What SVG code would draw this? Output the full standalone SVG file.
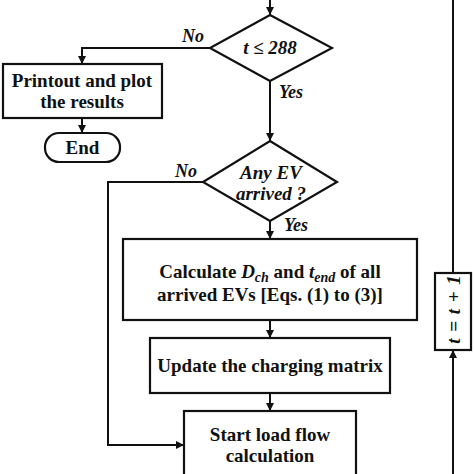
<svg xmlns="http://www.w3.org/2000/svg" width="474" height="474" viewBox="0 0 474 474">
<defs>
<style>
.s{fill:#fff;stroke:#111;stroke-width:2.2}
.c{fill:none;stroke:#111;stroke-width:2}
.t{font-family:"Liberation Serif","Times New Roman",serif;font-weight:bold;font-size:19px;fill:#111;text-anchor:middle}
.i{font-style:italic}
.l{font-family:"Liberation Serif","Times New Roman",serif;font-weight:bold;font-style:italic;font-size:18px;fill:#111}
</style>
<marker id="a" viewBox="0 0 10 10" refX="10" refY="5" markerWidth="8" markerHeight="8" orient="auto" markerUnits="userSpaceOnUse">
<path d="M0,0 L10,5 L0,10 z" fill="#111"/>
</marker>
</defs>
<rect width="474" height="474" fill="#fff"/>
<g id="connectors">
<path class="c" d="M270,0 V15" marker-end="url(#a)"/>
<path class="c" d="M210,48 H82 V64" marker-end="url(#a)"/>
<path class="c" d="M82,118 V133" marker-end="url(#a)"/>
<path class="c" d="M270,81 V141" marker-end="url(#a)"/>
<path class="c" d="M203,182 H108 V445 H184" marker-end="url(#a)"/>
<path class="c" d="M270,221 V239" marker-end="url(#a)"/>
<path class="c" d="M270,320 V338" marker-end="url(#a)"/>
<path class="c" d="M270,393 V411" marker-end="url(#a)"/>
<path class="c" d="M453,474 V350" marker-end="url(#a)"/>
<path class="c" d="M453,273 V0"/>
<text class="l" x="182" y="42">No</text>
<text class="l" x="279" y="98">Yes</text>
<text class="l" x="175" y="177">No</text>
<text class="l" x="284" y="231">Yes</text>
</g>
<g id="decision1">
<polygon class="s" points="270,15 332,48 270,81 210,48"/>
<text class="t i" x="270" y="54">t ≤ 288</text>
</g>
<g id="printout">
<rect class="s" x="3" y="64" width="159" height="54"/>
<text class="t" x="82" y="87">Printout and plot</text>
<text class="t" x="82" y="108">the results</text>
</g>
<g id="end">
<rect class="s" x="45" y="133" width="75" height="29" rx="14" ry="14"/>
<text class="t" x="82.5" y="154">End</text>
</g>
<g id="decision2">
<polygon class="s" points="270,141 337,182 270,221 203,182"/>
<text class="t i" x="271" y="179">Any EV</text>
<text class="t i" x="271" y="200">arrived ?</text>
</g>
<g id="calculate">
<rect class="s" x="123" y="239" width="294" height="81"/>
<text class="t" x="270" y="278">Calculate <tspan class="i">D<tspan font-size="14px" dy="4">ch</tspan></tspan><tspan dy="-4"> and </tspan><tspan class="i">t<tspan font-size="14px" dy="4">end</tspan></tspan><tspan dy="-4"> of all</tspan></text>
<text class="t" x="270" y="301">arrived EVs [Eqs. (1) to (3)]</text>
</g>
<g id="update">
<rect class="s" x="150" y="338" width="240" height="55"/>
<text class="t" x="270" y="372">Update the charging matrix</text>
</g>
<g id="loadflow">
<rect class="s" x="184" y="411" width="172" height="70"/>
<text class="t" x="270" y="441">Start load flow</text>
<text class="t" x="270" y="462">calculation</text>
</g>
<g id="increment">
<rect class="s" x="435" y="273" width="36" height="77"/>
<text class="t i" transform="translate(459.5,309) rotate(-90)" x="0" y="0" letter-spacing="1">t = t + 1</text>
</g>
</svg>
